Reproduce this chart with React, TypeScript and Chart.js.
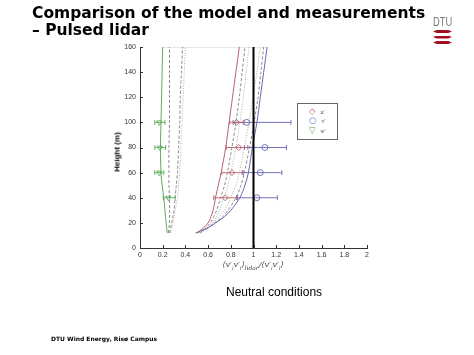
import React, { useEffect, useRef } from "react";
import { Chart, registerables } from "chart.js";
Chart.register(...registerables);

// ---- data ----
const xTicks = [0, 0.2, 0.4, 0.6, 0.8, 1, 1.2, 1.4, 1.6, 1.8, 2];
const yTicks = [0, 20, 40, 60, 80, 100, 120, 140, 160];

const measHeights = [40, 60, 80, 100];
const uMean = [0.75, 0.81, 0.87, 0.85];
const uLo = [0.65, 0.72, 0.76, 0.79];
const uHi = [0.86, 0.91, 0.95, 0.91];
const vMean = [1.03, 1.06, 1.1, 0.94];
const vLo = [0.85, 0.9, 0.92, 0.82];
const vHi = [1.21, 1.25, 1.29, 1.33];
const wMean = [0.25, 0.17, 0.175, 0.17];
const wLo = [0.205, 0.13, 0.13, 0.13];
const wHi = [0.31, 0.21, 0.225, 0.22];

const modelHeights = [12, 16, 20, 25, 30, 40, 50, 60, 80, 100, 120, 140, 160];
const wModel = [0.24, 0.235, 0.23, 0.225, 0.22, 0.21, 0.195, 0.185, 0.18, 0.185, 0.19, 0.195, 0.2];
const wDash1 = [0.25, 0.255, 0.26, 0.26, 0.26, 0.26, 0.255, 0.255, 0.255, 0.26, 0.26, 0.26, 0.26];
const wDash2 = [0.26, 0.27, 0.28, 0.29, 0.3, 0.31, 0.32, 0.33, 0.34, 0.35, 0.355, 0.365, 0.375];
const wDot = [0.27, 0.28, 0.29, 0.3, 0.31, 0.33, 0.34, 0.35, 0.36, 0.37, 0.38, 0.39, 0.4];
const uModel = [0.5, 0.56, 0.6, 0.625, 0.645, 0.665, 0.69, 0.715, 0.755, 0.785, 0.815, 0.845, 0.875];
const vModel = [0.49, 0.6, 0.665, 0.745, 0.8, 0.88, 0.925, 0.955, 0.99, 1.03, 1.06, 1.09, 1.12];
const uvDash1 = [0.53, 0.58, 0.62, 0.65, 0.675, 0.71, 0.745, 0.77, 0.81, 0.845, 0.875, 0.9, 0.925];
const uvDot1 = [0.54, 0.6, 0.64, 0.675, 0.7, 0.74, 0.775, 0.8, 0.845, 0.88, 0.91, 0.935, 0.96];
const uvDash2 = [0.5, 0.6, 0.66, 0.73, 0.775, 0.845, 0.89, 0.92, 0.965, 1.005, 1.04, 1.065, 1.09];
const uvDot2 = [0.52, 0.59, 0.645, 0.7, 0.745, 0.8, 0.845, 0.875, 0.92, 0.96, 0.995, 1.03, 1.06];
const refLineX = [1, 1];
const refLineY = [0, 160];
const topLineX = [0.19, 1.11];
const topLineY = [160, 160];

const RED = "#b8606c";
const BLUE = "#6767b8";
const GREEN = "#5fac5f";
const GRAY = "#8a8a8a";
const LGRAY = "#b0b0b0";

const curve = (xs: number[], ys: number[]) => xs.map((x, i) => ({ x, y: ys[i] }));

function lineDs(xs: number[], ys: number[], color: string, dash: number[] = [], width = 1) {
  return {
    type: "scatter" as const,
    data: curve(xs, ys),
    showLine: true,
    borderColor: color,
    borderWidth: width,
    borderDash: dash,
    pointRadius: 0,
    fill: false,
    tension: 0.3,
  };
}

function errDs(lo: number[], hi: number[], color: string) {
  return measHeights.map((h, i) => ({
    type: "scatter" as const,
    data: [
      { x: lo[i], y: h },
      { x: hi[i], y: h },
    ],
    showLine: true,
    borderColor: color,
    borderWidth: 0.9,
    pointStyle: "line" as const,
    rotation: 90,
    pointRadius: 2.5,
    pointBorderColor: color,
    pointBorderWidth: 0.9,
  }));
}

function markerDs(mean: number[], color: string, style: string, rot = 0) {
  return {
    type: "scatter" as const,
    data: curve(mean, measHeights),
    showLine: false,
    pointStyle: style as any,
    rotation: rot,
    pointRadius: 3,
    borderColor: color,
    backgroundColor: "rgba(0,0,0,0)",
    borderWidth: 0.9,
  };
}

const inwardTicks = {
  id: "inwardTicks",
  afterDraw(chart: any) {
    const { ctx, chartArea, scales } = chart;
    const x = scales.x;
    const y = scales.y;
    ctx.save();
    ctx.strokeStyle = "#333";
    ctx.lineWidth = 1;
    xTicks.forEach((v) => {
      const px = Math.round(x.getPixelForValue(v)) + 0.5;
      ctx.beginPath();
      ctx.moveTo(px, chartArea.bottom);
      ctx.lineTo(px, chartArea.bottom - 3);
      ctx.stroke();
    });
    yTicks.forEach((v) => {
      const py = Math.round(y.getPixelForValue(v)) + 0.5;
      ctx.beginPath();
      ctx.moveTo(chartArea.left, py);
      ctx.lineTo(chartArea.left + 3, py);
      ctx.stroke();
    });
    ctx.restore();
  },
};

export default function App() {
  const ref = useRef<HTMLCanvasElement>(null);
  useEffect(() => {
    if (!ref.current) return;
    const datasets: any[] = [
      lineDs(refLineX, refLineY, "#000", [], 2),
      ...errDs(uLo, uHi, RED),
      ...errDs(vLo, vHi, BLUE),
      ...errDs(wLo, wHi, GREEN),
      markerDs(uMean, RED, "rectRot"),
      markerDs(vMean, BLUE, "circle"),
      markerDs(wMean, GREEN, "triangle", 180),
      lineDs(uModel, modelHeights, RED),
      lineDs(vModel, modelHeights, BLUE),
      lineDs(wModel, modelHeights, GREEN),
      lineDs(uvDash1, modelHeights, GRAY, [3, 2]),
      lineDs(uvDot1, modelHeights, LGRAY, [1, 1.5]),
      lineDs(uvDash2, modelHeights, GRAY, [3, 2]),
      lineDs(uvDot2, modelHeights, LGRAY, [1, 1.5]),
      lineDs(wDash1, modelHeights, GRAY, [3, 2]),
      lineDs(wDash2, modelHeights, GRAY, [3, 2]),
      lineDs(wDot, modelHeights, LGRAY, [1, 1.5]),
      lineDs(topLineX, topLineY, "#cfcfcf", [], 1),
    ];
    const chart = new Chart(ref.current, {
      type: "scatter",
      data: { datasets },
      plugins: [inwardTicks],
      options: {
        responsive: false,
        animation: false,
        devicePixelRatio: 1,
        layout: { padding: { left: 110, right: 107, top: 47, bottom: 87 } },
        plugins: { legend: { display: false }, tooltip: { enabled: false } },
        scales: {
          x: {
            type: "linear",
            min: 0,
            max: 2,
            afterFit: (s: any) => {
              s.height = 20;
            },
            afterBuildTicks: (s: any) => {
              s.ticks = xTicks.map((v) => ({ value: v }));
            },
            ticks: {
              font: { family: "Liberation Sans", size: 7 },
              color: "#333",
              padding: 3,
              callback: (v: any) => String(Number(Number(v).toFixed(1))),
            },
            grid: { display: true, drawOnChartArea: false, drawTicks: false },
            border: { display: true, color: "#333", width: 1 },
          },
          y: {
            type: "linear",
            min: 0,
            max: 160,
            afterFit: (s: any) => {
              s.width = 30;
            },
            afterBuildTicks: (s: any) => {
              s.ticks = yTicks.map((v) => ({ value: v }));
            },
            ticks: {
              font: { family: "Liberation Sans", size: 7 },
              color: "#333",
              padding: 4,
            },
            grid: { display: true, drawOnChartArea: false, drawTicks: false },
            border: { display: true, color: "#333", width: 1 },
          },
        },
      },
    });
    return () => chart.destroy();
  }, []);

  const abs = (s: React.CSSProperties): React.CSSProperties => ({ position: "absolute", ...s });

  return (
    <div style={{ position: "fixed", left: 0, top: 0, width: 474, height: 355, background: "#fff", overflow: "hidden" }}>
      <canvas ref={ref} width={474} height={355} style={abs({ left: 0, top: 0, width: 474, height: 355 })} />
      <div
        style={abs({
          left: 32,
          top: 5,
          font: "bold 15.5px 'DejaVu Sans'",
          lineHeight: "17px",
          color: "#000",
          whiteSpace: "nowrap",
        })}
      >
        Comparison of the model and measurements
        <br />– Pulsed lidar
      </div>
      <div
        style={abs({
          left: 433,
          top: 14,
          font: "13px 'Liberation Sans'",
          color: "#7a7a7a",
          transform: "scaleX(0.72)",
          transformOrigin: "left top",
          letterSpacing: "0px",
        })}
      >
        DTU
      </div>
      {[30, 35.5, 41].map((t) => (
        <div
          key={t}
          style={abs({
            left: 433,
            top: t,
            width: 19,
            height: 3,
            background: "#a01020",
            clipPath: "polygon(0 50%, 20% 0, 80% 0, 100% 50%, 80% 100%, 20% 100%)",
          })}
        />
      ))}
      <div
        style={abs({
          left: 117,
          top: 152,
          font: "bold 8px 'Liberation Sans'",
          color: "#000",
          transform: "translate(-50%, -50%) rotate(-90deg)",
          whiteSpace: "nowrap",
        })}
      >
        Height (m)
      </div>
      <div
        style={abs({
          left: 253,
          top: 260,
          transform: "translateX(-50%)",
          font: "italic 8px 'DejaVu Serif'",
          color: "#444",
          whiteSpace: "nowrap",
        })}
      >
        ⟨v′<sub style={{ fontSize: 5 }}>i</sub>v′<sub style={{ fontSize: 5 }}>i</sub>⟩
        <sub style={{ fontSize: 6 }}>lidar</sub>/⟨v′<sub style={{ fontSize: 5 }}>i</sub>v′
        <sub style={{ fontSize: 5 }}>i</sub>⟩
      </div>
      <div
        style={abs({
          left: 226,
          top: 286,
          font: "12px 'Liberation Sans'",
          lineHeight: "12px",
          color: "#000",
          whiteSpace: "nowrap",
        })}
      >
        Neutral conditions
      </div>
      <div
        style={abs({
          left: 297,
          top: 103,
          width: 39,
          height: 35,
          border: "1px solid #666",
          background: "#fff",
          font: "5.5px 'Liberation Serif'",
          color: "#444",
        })}
      >
        {[
          { g: "◇", c: RED, l: "u′", t: 2.5 },
          { g: "○", c: BLUE, l: "v′", t: 12 },
          { g: "▽", c: GREEN, l: "w′", t: 21.5 },
        ].map((e) => (
          <div key={e.l} style={abs({ left: 11, top: e.t, whiteSpace: "nowrap", lineHeight: "9px" })}>
            <span style={{ color: e.c, fontSize: 8.5, fontFamily: "'DejaVu Sans'" }}>{e.g}</span>
            <span style={{ marginLeft: 5 }}>{e.l}</span>
          </div>
        ))}
      </div>
      <div
        style={abs({
          left: 51,
          top: 335,
          font: "bold 6px 'DejaVu Sans'",
          lineHeight: "7px",
          color: "#000",
          whiteSpace: "nowrap",
        })}
      >
        DTU Wind Energy, Risø Campus
      </div>
    </div>
  );
}
